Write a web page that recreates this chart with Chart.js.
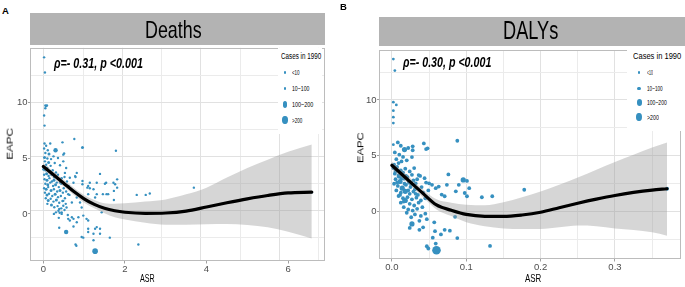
<!DOCTYPE html>
<html>
<head>
<meta charset="utf-8">
<script src="https://cdn.jsdelivr.net/npm/chart.js@4.4.1/dist/chart.umd.min.js"></script>
<style>
html,body{margin:0;padding:0;background:#fff;}
body{width:685px;height:287px;position:relative;overflow:hidden;font-family:"Liberation Sans",Arial,sans-serif;color:#000;}
.t{position:absolute;white-space:nowrap;line-height:1;transform-origin:0 0;}
.strip{position:absolute;background:#b3b3b3;}
.legend{position:absolute;background:#fff;}
.dot{position:absolute;background:#3690c0;border-radius:50%;}
canvas{position:absolute;}
</style>
</head>
<body>
<canvas id="cDeaths" width="330" height="242" style="left:0px;top:45px;width:330px;height:242px"></canvas>
<canvas id="cDalys" width="340" height="241" style="left:345px;top:46px;width:340px;height:241px"></canvas>

<div class="t" style="left:2px;top:5.5px;font-size:9.5px;font-weight:bold">A</div>
<div class="t" style="left:340px;top:2.2px;font-size:9.5px;font-weight:bold">B</div>

<div class="strip" style="left:30px;top:13px;width:295px;height:32px"></div>
<div class="strip" style="left:379px;top:17px;width:306px;height:29px"></div>
<div class="t" data-w="56.7" style="left:145px;top:17.5px;font-size:24.6px">Deaths</div>
<div class="t" data-w="55" style="left:503px;top:18.4px;font-size:25.5px">DALYs</div>

<div class="t" data-w="89" style="left:54px;top:55.5px;font-size:14px;font-weight:bold;font-style:italic">ρ=- 0.31, p &lt;0.001</div>
<div class="t" data-w="88.4" style="left:403.3px;top:55px;font-size:14px;font-weight:bold;font-style:italic">ρ=- 0.30, p &lt;0.001</div>

<!-- legends -->
<div class="legend" style="left:277.5px;top:48px;width:44.5px;height:86px"></div>
<div class="t" data-w="40.3" style="left:280.7px;top:51.5px;font-size:9.2px">Cases in 1990</div>
<div class="dot" style="left:283.8px;top:71.3px;width:2.4px;height:2.6px"></div>
<div class="dot" style="left:283.6px;top:87.3px;width:2.8px;height:3px"></div>
<div class="dot" style="left:282.6px;top:101.0px;width:4.8px;height:6.6px"></div>
<div class="dot" style="left:282.3px;top:116.3px;width:5.4px;height:7.4px"></div>
<div class="t" data-w="7.7" style="left:292.3px;top:69px;font-size:7px">&lt;10</div>
<div class="t" data-w="17.7" style="left:292.3px;top:85.2px;font-size:7px">10~100</div>
<div class="t" data-w="21" style="left:292.3px;top:100.8px;font-size:7px">100~200</div>
<div class="t" data-w="10.4" style="left:292.3px;top:116.5px;font-size:7px">&gt;200</div>

<div class="legend" style="left:627px;top:47px;width:58px;height:84px"></div>
<div class="t" data-w="48.3" style="left:633.3px;top:52.2px;font-size:8.6px">Cases in 1990</div>
<div class="dot" style="left:637.7px;top:71.4px;width:2.6px;height:2.8px"></div>
<div class="dot" style="left:637.4px;top:86.7px;width:3.2px;height:3.4px"></div>
<div class="dot" style="left:636.5px;top:99.4px;width:5px;height:6.6px"></div>
<div class="dot" style="left:636.3px;top:113.2px;width:5.4px;height:8.2px"></div>
<div class="t" data-w="6" style="left:647.3px;top:69.2px;font-size:7px">&lt;10</div>
<div class="t" data-w="16" style="left:647.3px;top:84.8px;font-size:7px">10~100</div>
<div class="t" data-w="19.4" style="left:647.3px;top:99.2px;font-size:7px">100~200</div>
<div class="t" data-w="12" style="left:647.3px;top:113.8px;font-size:7px">&gt;200</div>

<!-- axis titles -->
<div class="t" data-w="15" style="left:140px;top:273.7px;font-size:10px">ASR</div>
<div class="t" data-w="16.7" style="left:525px;top:273.7px;font-size:10px">ASR</div>
<div class="t rot" data-cx="10" data-cy="144" data-len="32" data-sx="0.75" style="font-size:12px">EAPC</div>
<div class="t rot" data-cx="360" data-cy="147.5" data-len="31" data-sx="0.75" style="font-size:12px">EAPC</div>

<script>
// ---------------- Deaths panel data ----------------
const deathsASR = [
  0.02,0.04,0.05,0.07,0.09,0.05,0.02,0.03,0.03,0.07,
  0.17,0.47,0.76,0.96,1.78,0.02,0.11,0.30,0.05,0.14,
  0.51,0.25,0.49,0.03,0.10,0.19,0.36,0.04,0.13,0.28,
  0.49,0.07,0.18,0.41,0.56,0.01,0.05,0.10,0.16,0.23,
  0.31,0.02,0.08,0.13,0.20,0.27,0.36,0.45,0.53,0.03,
  0.09,0.15,0.21,0.26,0.33,0.41,0.52,0.58,0.05,0.11,
  0.17,0.24,0.30,0.38,0.44,0.50,0.62,0.02,0.07,0.12,
  0.19,0.26,0.34,0.41,0.48,0.56,0.64,0.04,0.09,0.14,
  0.22,0.29,0.36,0.43,0.53,0.61,0.06,0.12,0.18,0.25,
  0.32,0.39,0.47,0.49,0.55,0.70,0.10,0.20,0.27,0.35,
  0.44,0.57,0.39,0.49,0.37,0.45,0.31,0.52,0.40,0.26,
  0.45,0.60,0.38,0.61,0.70,0.65,0.74,0.39,0.56,0.74,
  0.79,0.81,0.65,0.78,0.74,0.82,0.79,0.96,0.96,1.10,
  1.14,1.23,1.31,1.14,1.39,1.51,1.54,1.72,1.81,1.76,
  1.81,1.73,1.46,1.55,1.31,1.27,1.10,1.08,0.82,0.90,
  0.94,0.98,1.06,0.86,0.82,1.59,1.73,1.43,1.10,1.10,
  1.27,1.39,1.31,1.23,1.10,1.39,0.94,0.98,1.63,1.23,
  2.33,2.29,2.51,2.61,3.69,6.58,1.27
];
const deathsEAPC = [
  14.0,12.65,9.7,9.65,9.7,9.45,8.8,7.9,6.3,6.1,
  6.3,6.4,6.7,5.95,5.65,5.85,5.7,5.7,5.45,5.35,
  5.4,5.15,5.3,5.05,4.95,4.9,5.0,4.7,4.6,4.55,
  4.7,4.4,4.3,4.35,4.1,4.0,3.9,4.1,3.8,3.9,
  3.7,3.5,3.6,3.4,3.5,3.3,3.5,3.2,3.67,3.1,
  3.0,3.2,2.9,3.0,2.8,2.8,3.3,2.9,2.7,2.6,
  2.8,2.5,2.6,2.4,2.7,2.3,2.5,2.3,2.2,2.4,
  2.1,2.2,2.0,2.1,1.9,2.0,1.7,1.9,1.7,1.8,
  1.6,1.75,1.5,1.6,1.4,1.77,1.4,1.2,1.35,1.1,
  1.25,1.0,1.15,1.17,0.9,1.02,0.9,0.8,0.6,0.7,
  0.5,0.58,0.44,0.73,0.29,0.14,0.14,0.35,0.1,0.0,
  0.0,-0.1,-0.35,-0.44,-0.3,-0.59,-0.44,-1.24,-1.62,-1.12,
  -2.74,-2.85,3.23,3.38,2.79,3.67,3.3,2.94,2.65,2.5,
  2.29,2.2,2.79,2.79,3.58,2.7,2.79,2.79,3.09,2.65,
  2.35,2.06,1.77,1.77,1.77,1.47,1.77,2.35,1.47,1.02,
  0.58,-0.15,-0.44,-0.3,-0.74,1.77,1.24,0.14,-0.59,-1.32,
  -1.32,-1.32,-1.18,-1.77,-1.62,-1.77,-2.06,-2.12,-2.12,-2.36,
  -2.74,1.70,1.70,1.82,2.35,1.94,-3.33
];
// case-count class in 1990: 0 "<10", 1 "10~100", 2 "100~200", 3 ">200"
const deathsCases = [
  0,0,0,0,0,0,0,0,0,0,
  0,0,0,1,0,0,0,2,0,1,
  0,0,0,1,0,0,0,0,1,0,
  0,0,0,0,0,1,0,0,1,0,
  0,0,1,0,0,1,0,0,0,0,
  1,0,0,1,0,0,0,0,0,1,
  0,0,1,0,0,0,0,0,1,0,
  1,0,0,1,0,0,0,0,1,0,
  0,1,0,0,0,0,0,1,0,0,
  1,0,0,0,0,0,0,1,0,0,
  0,0,0,0,0,0,0,0,0,0,
  0,0,0,0,0,0,0,0,2,0,
  0,0,0,0,0,0,0,0,0,0,
  0,0,0,0,0,0,0,0,0,0,
  0,0,0,0,0,0,0,0,0,0,
  0,0,0,0,0,0,0,0,0,0,
  0,0,0,0,0,0,0,0,0,0,
  0,0,0,0,0,0,3
];
const deathsFitASR   = [0,0.25,0.5,0.75,1,1.25,1.5,1.75,2,2.5,3,3.5,4,4.5,5,5.5,6,6.58];
const deathsFitEAPC  = [4.25,3.5,2.75,2.0,1.35,0.85,0.5,0.28,0.15,0.05,0.08,0.25,0.62,1.0,1.35,1.65,1.88,1.95];
const deathsFitUpper = [4.55,3.8,3.05,2.35,1.7,1.25,0.95,0.9,0.95,1.1,1.3,1.75,2.35,3.25,4.1,4.85,5.55,6.2];
const deathsFitLower = [3.95,3.2,2.45,1.7,1.0,0.5,0.05,-0.3,-0.5,-0.8,-0.97,-0.97,-0.93,-0.9,-1.0,-1.2,-1.6,-2.2];
const deathsXTicks = [0,2,4,6];
const deathsYTicks = [0,5,10];
const deathsGridXMajor = [0,1.929,3.858,5.784];
const deathsGridXMinor = [0.973,2.909,4.821,6.745];
const deathsGridYMajor = [0.29,5.15,10.0];
const deathsGridYMinor = [-2.12,2.72,7.55,12.36];

// ---------------- DALYs panel data ----------------
const dalysASR = [
  0.002,0.004,0.002,0.006,0.002,0.002,0.002,0.002,0.008,0.012,
  0.017,0.022,0.028,0.028,0.043,0.048,0.088,0.004,0.010,0.015,
  0.027,0.046,0.006,0.013,0.020,0.003,0.009,0.002,0.007,0.012,
  0.018,0.024,0.030,0.004,0.010,0.015,0.021,0.027,0.036,0.038,
  0.005,0.011,0.016,0.023,0.029,0.032,0.050,0.054,0.003,0.008,
  0.014,0.019,0.025,0.031,0.063,0.059,0.074,0.076,0.006,0.012,
  0.018,0.024,0.029,0.035,0.042,0.009,0.015,0.021,0.027,0.033,
  0.039,0.045,0.018,0.012,0.024,0.030,0.036,0.041,0.016,0.022,
  0.028,0.034,0.020,0.031,0.026,0.045,0.039,0.047,0.037,0.027,
  0.057,0.042,0.024,0.037,0.058,0.071,0.078,0.066,0.055,0.088,
  0.047,0.049,0.059,0.132,0.085,0.096,0.101,0.104,0.086,0.090,
  0.098,0.101,0.067,0.071,0.121,0.135,0.178,0.370,0.005,0.013,
  0.017,0.022,0.026,0.034,0.040,0.046,0.044,0.019,0.007,0.011,
  0.016,0.032,0.049,0.060
];
const dalysEAPC = [
  13.66,12.63,9.8,9.56,9.04,8.46,7.93,6.0,6.2,5.9,
  5.56,5.7,5.85,5.5,6.11,5.67,6.35,5.3,5.1,4.9,
  4.89,5.6,4.7,4.5,4.6,4.2,4.35,3.9,4.0,3.7,
  3.85,3.6,3.9,3.4,3.2,3.5,3.1,3.3,3.28,3.2,
  2.9,2.7,2.95,2.6,2.8,2.54,2.54,2.4,2.5,2.3,
  2.1,2.4,2.2,2.0,2.25,2.1,2.4,3.33,1.9,1.7,
  1.82,1.6,1.8,1.5,1.7,1.4,1.2,1.3,1.1,1.25,
  1.0,1.2,1.0,0.8,0.7,0.55,0.8,0.4,0.4,0.2,
  0.1,0.25,-0.1,-0.25,-0.5,-0.18,-0.38,-0.67,-0.82,-1.1,
  -0.96,-1.4,-1.46,-1.63,-1.75,-1.63,-1.7,-2.04,-2.33,-2.37,
  -3.1,-3.3,-2.86,-3.07,-0.46,2.84,2.75,2.1,1.82,2.4,
  1.67,1.38,1.53,1.38,1.29,1.38,1.96,2.05,3.6,3.0,
  2.5,1.9,2.4,2.9,2.2,2.6,3.0,3.2,2.6,1.5,
  0.9,1.6,1.9,-3.45
];
const dalysCases = [
  0,0,0,0,0,0,0,0,1,1,
  2,1,1,1,1,1,1,1,1,1,
  1,1,1,1,1,1,1,1,1,1,
  1,1,1,1,2,1,1,1,1,1,
  1,2,1,1,1,1,1,1,1,1,
  2,1,1,1,1,1,1,1,1,1,
  2,1,1,1,1,1,1,1,1,1,
  1,1,2,1,1,1,1,1,1,1,
  1,1,1,1,1,1,1,1,1,2,
  1,1,1,1,1,1,1,1,1,1,
  1,1,1,1,1,2,1,1,1,1,
  1,1,1,1,1,1,1,1,1,1,
  1,1,1,1,1,1,1,1,1,1,
  1,1,1,3
];
const dalysFitASR   = [0,0.02,0.04,0.06,0.08,0.1,0.125,0.15,0.175,0.2,0.225,0.25,0.275,0.3,0.325,0.35,0.37];
const dalysFitEAPC  = [4.16,2.95,1.75,0.6,0.12,-0.25,-0.42,-0.43,-0.3,-0.05,0.35,0.75,1.12,1.45,1.72,1.93,2.05];
const dalysFitUpper = [4.5,3.3,2.1,1.1,0.8,0.62,0.58,0.85,1.3,1.8,2.4,3.05,3.75,4.45,5.1,5.75,6.2];
const dalysFitLower = [3.8,2.6,1.4,0.2,-0.4,-0.95,-1.3,-1.5,-1.55,-1.55,-1.4,-1.25,-1.3,-1.5,-1.65,-1.85,-2.15];
const dalysXTicks = [0,0.1,0.2,0.3];
const dalysYTicks = [0,5,10];
const dalysGridXMajor = [0,0.1,0.2,0.3];
const dalysGridXMinor = [0.05,0.15,0.25,0.35];
const dalysGridYMajor = [0,5,10];
const dalysGridYMinor = [-2.5,2.5,7.5,12.5];

// ---------------- rendering ----------------
const POINT = '#3690c0';
const TICKFONT = {family:'"Liberation Sans Narrow","Liberation Sans",Arial,sans-serif', size:9.5};

const borderPlugin = {
  id:'panelBorder',
  afterDraw(chart){
    const {ctx, chartArea:a} = chart;
    ctx.save();
    ctx.strokeStyle = '#bcbcbc'; ctx.lineWidth = 1;
    ctx.strokeRect(Math.round(a.left)+0.5, Math.round(a.top)+0.5, Math.round(a.right-a.left)-1, Math.round(a.bottom-a.top)-1);
    ctx.restore();
  }
};

function panel(id, o){
  const ds = [];
  for (let c=0;c<4;c++){
    const pts=[];
    o.asr.forEach((x,i)=>{ if(o.cases[i]===c) pts.push({x:x,y:o.eapc[i]}); });
    ds.push({type:'scatter', data:pts, pointRadius:o.radii[c], pointHoverRadius:o.radii[c],
      backgroundColor:POINT, borderWidth:0, xAxisID:'x', yAxisID:'y', order:10});
  }
  ds.push({type:'line', data:o.fitX.map((x,i)=>({x:x,y:o.hi[i]})), borderWidth:0, pointRadius:0,
    fill:'+1', backgroundColor:'rgba(153,153,153,0.4)', cubicInterpolationMode:'monotone', xAxisID:'x', yAxisID:'y', order:5});
  ds.push({type:'line', data:o.fitX.map((x,i)=>({x:x,y:o.lo[i]})), borderWidth:0, pointRadius:0,
    fill:false, cubicInterpolationMode:'monotone', xAxisID:'x', yAxisID:'y', order:5});
  ds.push({type:'line', data:o.fitX.map((x,i)=>({x:x,y:o.fit[i]})), borderColor:'#000', borderWidth:3.2,
    pointRadius:0, fill:false, cubicInterpolationMode:'monotone', borderCapStyle:'round', xAxisID:'x', yAxisID:'y', order:1});

  const gridAll = (maj,min)=>maj.concat(min).sort((a,b)=>a-b).map(v=>({value:v}));
  const gridColor = maj => c => (maj.some(v=>Math.abs(v-c.tick.value)<1e-9) ? '#e1e1e1' : '#ebebeb');

  new Chart(document.getElementById(id), {
    type:'scatter',
    data:{datasets:ds},
    options:{
      responsive:false, animation:false, devicePixelRatio:1,
      layout:{padding:{left:0,right:o.padRight,top:0,bottom:0}},
      plugins:{legend:{display:false}, tooltip:{enabled:false}},
      events:[],
      scales:{
        x:{type:'linear', position:'bottom', min:o.xMin, max:o.xMax,
          afterBuildTicks:s=>{ s.ticks = o.xTicks.map(v=>({value:v})); },
          afterFit:s=>{ s.height=o.xH; s.paddingLeft=0; s.paddingRight=0; },
          grid:{drawOnChartArea:false, drawTicks:true, tickLength:2.5, tickColor:'#a0a0a0'},
          border:{display:false},
          ticks:{font:TICKFONT, color:'#4d4d4d', padding:0.5, maxRotation:0, autoSkip:false, callback:o.xFmt}},
        xg:{type:'linear', position:'bottom', min:o.xMin, max:o.xMax,
          afterBuildTicks:s=>{ s.ticks = gridAll(o.gxMaj,o.gxMin); },
          afterFit:s=>{ s.height=0; s.paddingLeft=0; s.paddingRight=0; },
          grid:{drawOnChartArea:true, drawTicks:false, color:gridColor(o.gxMaj), lineWidth:1},
          border:{display:false}, ticks:{display:false}},
        y:{type:'linear', position:'left', min:o.yMin, max:o.yMax,
          afterBuildTicks:s=>{ s.ticks = o.yTicks.map(v=>({value:v})); },
          afterFit:s=>{ s.width=o.yW; s.paddingTop=0; s.paddingBottom=0; },
          grid:{drawOnChartArea:false, drawTicks:true, tickLength:2, tickColor:'#a0a0a0'},
          border:{display:false},
          ticks:{font:TICKFONT, color:'#4d4d4d', padding:0.5, callback:v=>String(v)}},
        yg:{type:'linear', position:'left', min:o.yMin, max:o.yMax,
          afterBuildTicks:s=>{ s.ticks = gridAll(o.gyMaj,o.gyMin); },
          afterFit:s=>{ s.width=0; s.paddingTop=0; s.paddingBottom=0; },
          grid:{drawOnChartArea:true, drawTicks:false, color:gridColor(o.gyMaj), lineWidth:1},
          border:{display:false}, ticks:{display:false}}
      }
    },
    plugins:[borderPlugin]
  });
}

panel('cDeaths', {asr:deathsASR, eapc:deathsEAPC, cases:deathsCases, radii:[1.2,1.5,2.2,2.8],
  fitX:deathsFitASR, fit:deathsFitEAPC, hi:deathsFitUpper, lo:deathsFitLower,
  xMin:-0.326, xMax:6.904, yMin:-4.21, yMax:14.855, xTicks:deathsXTicks, yTicks:deathsYTicks,
  xFmt:v=>String(v), gxMaj:deathsGridXMajor, gxMin:deathsGridXMinor, gyMaj:deathsGridYMajor, gyMin:deathsGridYMinor,
  yW:30, xH:26, padRight:5});

panel('cDalys', {asr:dalysASR, eapc:dalysEAPC, cases:dalysCases, radii:[1.4,1.9,2.6,4.3],
  fitX:dalysFitASR, fit:dalysFitEAPC, hi:dalysFitUpper, lo:dalysFitLower,
  xMin:-0.0173, xMax:0.3884, yMin:-4.24, yMax:14.45, xTicks:dalysXTicks, yTicks:dalysYTicks,
  xFmt:v=>v.toFixed(1), gxMaj:dalysGridXMajor, gxMin:dalysGridXMinor, gyMaj:dalysGridYMajor, gyMin:dalysGridYMinor,
  yW:34, xH:28, padRight:1});

// text fitting (narrow, squeezed typography of the original figure)
document.querySelectorAll('[data-w]').forEach(el=>{
  const k = parseFloat(el.dataset.w)/el.offsetWidth;
  el.style.transform = 'scaleX('+k+')';
});
document.querySelectorAll('.rot').forEach(el=>{
  const len = parseFloat(el.dataset.len);
  const fs = 12*len/el.offsetWidth;
  el.style.fontSize = fs+'px';
  const w = el.offsetWidth, h = el.offsetHeight;
  el.style.left = (parseFloat(el.dataset.cx)-w/2)+'px';
  el.style.top = (parseFloat(el.dataset.cy)-h/2)+'px';
  el.style.transformOrigin = '50% 50%';
  el.style.transform = 'scaleX('+el.dataset.sx+') rotate(-90deg)';
});
</script>
</body>
</html>
